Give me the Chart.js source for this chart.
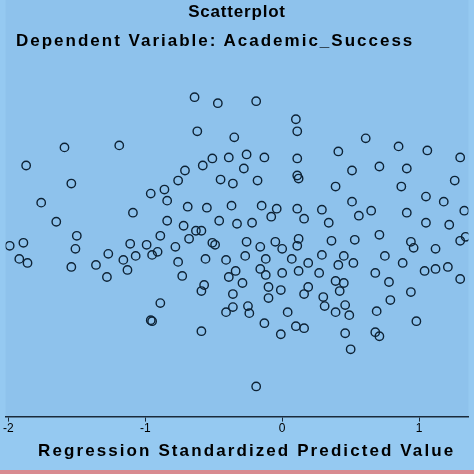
<!DOCTYPE html>
<html><head><meta charset="utf-8">
<script src="https://cdn.jsdelivr.net/npm/chart.js"></script>
<style>
html,body{margin:0;padding:0;background:#95c9f1;overflow:hidden;width:474px;height:474px}
#wrap{position:absolute;left:0;top:0;width:474px;height:474px}
.t{position:absolute;font-family:"Liberation Sans",Arial,sans-serif;font-weight:bold;color:#000;white-space:nowrap}
</style></head><body>
<div id="wrap"><canvas id="c" width="474" height="474"></canvas></div>
<div class="t" style="left:0;width:474px;text-align:center;top:2px;font-size:17px;letter-spacing:0.8px">Scatterplot</div>
<div class="t" style="left:16px;top:31px;font-size:17px;letter-spacing:2px">Dependent Variable: Academic_Success</div>
<div class="t" style="left:38px;top:441px;font-size:17px;letter-spacing:2.1px">Regression Standardized Predicted Value</div>
<div style="position:absolute;left:0;top:470px;width:474px;height:4px;background:#d88a90"></div>
<script>
const xVals=[-0.64,-0.47,-0.19,0.10,-0.62,-0.35,0.11,-1.59,-1.19,-0.26,-0.39,-0.13,-0.51,0.11,0.41,0.61,0.85,1.06,-1.87,-0.58,-0.28,-0.71,0.11,0.91,1.30,0.51,0.71,-1.54,-0.86,-0.96,-0.76,-0.45,-0.36,-0.18,0.12,0.39,0.87,1.05,1.26,-1.76,-0.84,-0.69,-1.09,-0.55,-0.37,-0.15,-0.04,0.11,0.29,0.51,0.65,0.91,1.18,1.33,-1.65,-0.84,-0.72,-0.63,-0.59,-0.46,-0.33,-0.22,-0.08,0.16,0.34,0.56,1.05,1.22,-1.89,-1.99,-1.50,-0.89,-0.68,-0.51,-0.26,-0.05,0.12,0.36,0.53,0.71,0.94,1.30,-1.51,-1.11,-0.99,-0.91,-0.78,-0.49,-0.16,0.00,0.11,0.45,0.75,0.96,1.12,1.34,-1.92,-1.86,-1.27,-1.16,-1.07,-0.95,-0.76,-0.56,-0.41,-0.27,-0.12,0.07,0.19,0.29,0.88,1.12,-1.54,-1.36,-1.13,-0.73,-0.34,-0.16,0.00,0.12,0.27,0.41,0.52,0.68,1.04,1.21,-1.28,-0.57,-0.39,-0.12,0.19,0.39,0.45,0.78,1.30,-0.89,-0.59,-0.36,-0.29,-0.10,-0.01,0.16,0.30,0.42,0.94,-0.95,-0.36,-0.25,-0.10,0.31,0.46,-0.59,-0.41,-0.24,-0.13,0.04,0.10,0.39,0.49,0.69,0.79,0.98,-0.01,0.16,0.46,0.68,0.71,0.50,-0.19,-0.96];
const yVals=[3.18,3.12,3.14,2.96,2.84,2.78,2.84,2.68,2.70,2.61,2.58,2.58,2.57,2.57,2.64,2.77,2.69,2.65,2.50,2.50,2.47,2.45,2.40,2.47,2.58,2.45,2.49,2.32,2.26,2.22,2.35,2.36,2.32,2.35,2.37,2.29,2.29,2.19,2.35,2.13,2.15,2.09,2.03,2.08,2.10,2.10,2.07,2.07,2.06,2.14,2.05,2.03,2.14,2.05,1.94,1.95,1.90,1.85,1.85,1.95,1.92,1.93,1.99,1.97,1.93,2.00,1.93,1.91,1.73,1.70,1.80,1.80,1.77,1.73,1.74,1.74,1.77,1.75,1.76,1.81,1.74,1.75,1.67,1.72,1.71,1.64,1.69,1.71,1.69,1.67,1.70,1.60,1.60,1.68,1.67,1.79,1.57,1.53,1.62,1.56,1.60,1.61,1.54,1.57,1.56,1.60,1.57,1.57,1.53,1.61,1.53,1.47,1.49,1.51,1.46,1.40,1.45,1.47,1.43,1.45,1.43,1.51,1.53,1.43,1.45,1.49,1.39,1.31,1.39,1.41,1.29,1.35,1.33,1.34,1.37,1.13,1.25,1.22,1.33,1.29,1.26,1.22,1.19,1.25,1.24,0.95,1.09,1.10,1.18,1.10,1.11,0.85,1.04,1.03,0.93,1.04,0.90,1.04,1.01,1.05,1.16,0.95,0.82,0.88,0.83,0.84,0.80,0.67,0.30,0.96];
const xTicks=[-2,-1,0,1];
const pts=xVals.map((x,i)=>({x:x,y:yVals[i]}));
new Chart(document.getElementById('c'),{
 type:'scatter',
 data:{datasets:[{data:pts,pointStyle:'circle',pointRadius:4.2,pointBorderWidth:1.4,borderColor:'#0d2235',backgroundColor:'rgba(0,0,0,0)'}]},
 options:{responsive:false,animation:false,
  layout:{padding:{top:58,bottom:38,left:0,right:0}},
  plugins:{legend:{display:false},tooltip:{enabled:false}},
  scales:{
   x:{min:-2.02,max:1.36,afterBuildTicks:a=>{a.ticks=xTicks.map(v=>({value:v}));},
      grid:{display:true,drawOnChartArea:false,drawTicks:true,tickLength:5,color:'#1a2a3a'},
      border:{display:true,color:'#1a2a3a',width:1.5},
      ticks:{color:'#000',font:{family:'Liberation Sans',size:12},padding:0,maxRotation:0}},
   y:{display:false,min:0,max:3.57}
  }},
 plugins:[{id:'bg',beforeDraw(ch){const a=ch.chartArea,ctx=ch.ctx;ctx.save();ctx.fillStyle='#8ec2ec';ctx.fillRect(a.left,a.top-58,a.right-a.left,a.bottom-a.top+58);ctx.restore();}}]
});
</script></body></html>
